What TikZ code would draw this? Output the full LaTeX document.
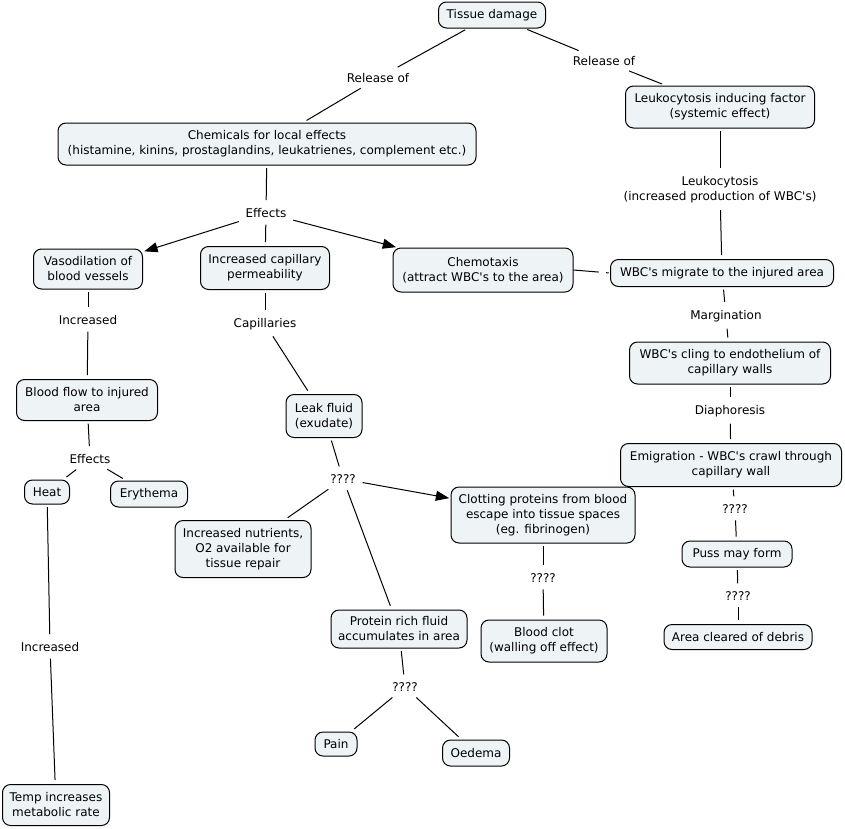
\documentclass[tikz,border=0pt]{standalone}
\usepackage{fontspec}
\setmainfont{DejaVu Sans}
\usetikzlibrary{arrows.meta}
\definecolor{boxfill}{RGB}{238,243,246}
\newcommand{\aq}{\textquotesingle}
\begin{document}
\begin{tikzpicture}[x=0.75pt,y=-0.75pt,
 font=\fontsize{9}{11.25}\selectfont,
 box/.style 2 args={draw=black, line width=0.75pt, fill=boxfill, rounded corners=6pt, align=center, inner sep=2pt, minimum width=#1*0.75pt, minimum height=#2*0.75pt},
 lbl/.style={inner sep=3pt, align=center},
 ln/.style={line width=0.75pt, shorten <=2pt, shorten >=3pt},
 arr/.style={ln, shorten >=1pt, -{Triangle[length=10pt,width=7.5pt]}}]
\useasboundingbox (0,0) rectangle (845,828);
% concepts
\node[box={107}{26}] (td) at (492,15) {Tissue damage};
\node[box={189}{42}] (lif) at (720,107) {Leukocytosis inducing factor\\(systemic effect)};
\node[box={418}{42}] (chem) at (267,144) {Chemicals for local effects\\(histamine, kinins, prostaglandins, leukatrienes, complement etc.)};
\node[box={109}{40}] (vaso) at (88,269) {Vasodilation of\\blood vessels};
\node[box={129}{43}] (icp) at (265,268) {Increased capillary\\permeability};
\node[box={180}{44}] (chemo) at (483,270) {Chemotaxis\\(attract WBC\aq s to the area)};
\node[box={223}{27}] (wbcm) at (722,273) {WBC\aq s migrate to the injured area};
\node[box={201}{42}] (cling) at (730,363) {WBC\aq s cling to endothelium of\\capillary walls};
\node[box={221}{43}] (emig) at (731,465) {Emigration - WBC\aq s crawl through\\capillary wall};
\node[box={141}{41}] (bf) at (87,400) {Blood flow to injured\\area};
\node[box={76}{43}] (leak) at (324,416) {Leak fluid\\(exudate)};
\node[box={45}{24}] (heat) at (47,492) {Heat};
\node[box={77}{26}] (ery) at (149,494) {Erythema};
\node[box={136}{57}] (nutr) at (243,549) {Increased nutrients,\\O2 available for\\tissue repair};
\node[box={184}{56}] (clot) at (543,515) {Clotting proteins from blood\\escape into tissue spaces\\(eg. fibrinogen)};
\node[box={110}{26}] (puss) at (737,554) {Puss may form};
\node[box={148}{25}] (area) at (738,637) {Area cleared of debris};
\node[box={136}{38}] (prot) at (399,629) {Protein rich fluid\\accumulates in area};
\node[box={126}{42}] (bclot) at (544,641) {Blood clot\\(walling off effect)};
\node[box={42}{24}] (pain) at (336,744) {Pain};
\node[box={67}{26}] (oed) at (476,753) {Oedema};
\node[box={107}{41}] (temp) at (56,805) {Temp increases\\metabolic rate};
% linking phrases
\node[lbl] (l1) at (378,78) {Release of};
\node[lbl] (l2) at (604,61) {Release of};
\node[lbl] (l3) at (266,213) {Effects};
\node[lbl] (l4) at (720,190) {Leukocytosis\\(increased production of WBC\aq s)};
\node[lbl] (l5) at (726,316) {Margination};
\node[lbl] (l6) at (730,411) {Diaphoresis};
\node[lbl] (l7) at (735,509) {????};
\node[lbl] (l8) at (738,596) {????};
\node[lbl] (l9) at (88,320) {Increased};
\node[lbl] (l10) at (265,324) {Capillaries};
\node[lbl] (l11) at (90,459) {Effects};
\node[lbl] (l12) at (343,479) {????};
\node[lbl] (l13) at (543,578) {????};
\node[lbl] (l14) at (50,647) {Increased};
\node[lbl] (l15) at (405,687) {????};
% connectors
\draw[ln] (td) -- (l1);
\draw[ln] (l1) -- (chem);
\draw[ln] (td) -- (l2);
\draw[ln] (l2) -- (lif);
\draw[ln] (chem) -- (l3);
\draw[arr] (l3) -- (vaso);
\draw[ln] (l3) -- (icp);
\draw[arr] (l3) -- (chemo);
\draw[ln] (lif) -- (l4);
\draw[ln] (l4) -- (wbcm);
\draw[ln, shorten <=0pt, shorten >=0pt, dash pattern=on 19pt off 5.5pt on 2pt] (chemo.east) -- (wbcm.west);
\draw[ln] (wbcm) -- (l5);
\draw[ln] (l5) -- (cling);
\draw[ln] (cling) -- (l6);
\draw[ln] (l6) -- (emig);
\draw[ln] (emig) -- (l7);
\draw[ln] (l7) -- (puss);
\draw[ln] (puss) -- (l8);
\draw[ln] (l8) -- (area);
\draw[ln] (vaso) -- (l9);
\draw[ln] (l9) -- (bf);
\draw[ln] (icp) -- (l10);
\draw[ln] (l10) -- (leak);
\draw[ln] (bf) -- (l11);
\draw[ln] (l11) -- (heat);
\draw[ln] (l11) -- (ery);
\draw[ln] (leak) -- (l12);
\draw[ln] (l12) -- (nutr);
\draw[arr] (l12) -- (clot);
\draw[ln] (l12) -- (prot);
\draw[ln] (clot) -- (l13);
\draw[ln] (l13) -- (bclot);
\draw[ln] (heat) -- (l14);
\draw[ln] (l14) -- (temp);
\draw[ln] (prot) -- (l15);
\draw[ln] (l15) -- (pain);
\draw[ln] (l15) -- (oed);
\end{tikzpicture}
\end{document}
